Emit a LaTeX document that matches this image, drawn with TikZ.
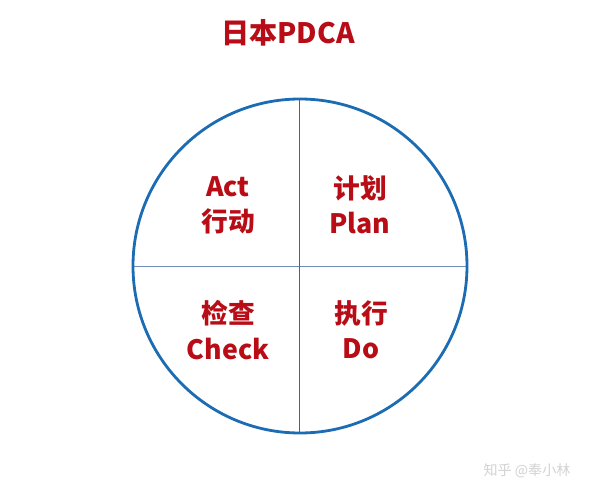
\documentclass[tikz,border=0pt]{standalone}
\usepackage{fontspec}
\setmainfont{Noto Sans CJK SC}
\definecolor{pdcared}{RGB}{184, 12, 22}
\definecolor{ringblue}{RGB}{28, 108, 180}
\definecolor{splitgray}{RGB}{80, 96, 128}
\definecolor{splitblue}{RGB}{110, 140, 180}

\begin{document}
\begin{tikzpicture}[x=0.025cm, y=-0.025cm,
	label/.style={text=pdcared, font=\fontsize{19}{25}\selectfont\bfseries, align=center, inner sep=0pt}]
	\useasboundingbox (0,0) rectangle (600,499);
	\node[text=pdcared, font=\fontsize{20}{24}\selectfont\bfseries] (title) at (288,33) {日本PDCA};
	% circle and its two cuts
	\coordinate (o) at (300,266);
	\draw[splitblue, thin] (133,266) -- (467,266);
	\draw[splitgray, thin] (299,99) -- (299,433);
	\draw[ringblue, line width=2pt] (o) circle[radius=167];
	% the four stages
	\node[label] (act) at (228,205) {Act\\行动};
	\node[label] (plan) at (360,205) {计划\\Plan};
	\node[label] (check) at (228,330) {检查\\Check};
	\node[label] (do) at (361,330) {执行\\Do};
	\node[text=gray!35, font=\fontsize{10}{12}\selectfont] (mark) at (527,471) {知乎 @奉小林};
\end{tikzpicture}
\end{document}
